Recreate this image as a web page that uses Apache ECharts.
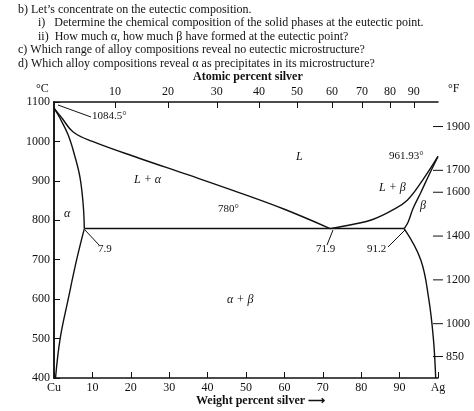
<!DOCTYPE html>
<html><head><meta charset="utf-8">
<script src="https://cdn.jsdelivr.net/npm/echarts@6.0.0/dist/echarts.min.js"></script>
<style>html,body{margin:0;background:#fff}#echarts{width:474px;height:411px}</style>
</head><body><div id="echarts"></div>
<script>
// Cu-Ag phase diagram, wt% Ag vs temperature (C)
const liquidusCu = [[0,1084.5],[2,1060],[5,1024],[10,1000],[22,958],[35,915],[48,871],[60,828],[71.9,779]]
const liquidusAg = [[71.9,779],[78,790],[83,802],[88,825],[92,851],[96,902],[100,961.93]]
const solidusAlpha = [[0,1084.5],[1.5,1060],[3.7,1016],[5.5,960],[6.8,907],[7.6,840],[7.9,779]]
const solvusAlpha = [[7.9,779],[5.9,700],[3.7,600],[1.6,500],[0.4,400]]
const solidusBeta = [[100,961.93],[97.9,920],[95.5,870],[93.5,830],[92.2,795],[91.2,779]]
const solvusBeta = [[91.2,779],[95.5,700],[97.6,600],[98.8,500],[99.4,400]]
const eutectic = [[7.9,779],[91.2,779]]
// top axis: atomic % labels and where they sit in wt%
const atomicLabels = [10,20,30,40,50,60,70,80,90]
const atomicAtWt = [15.9,29.7,42.4,53.4,63.3,72.4,80.2,87.5,93.7]
const fahrenheitTicks = [850,1000,1200,1400,1600,1700,1900]

const F = 'Liberation Serif'
const myChart = echarts.init(document.getElementById('echarts'))
const curve = (d, smooth) => ({type:'line', data:d, smooth:smooth, symbol:'none', silent:true,
  lineStyle:{color:'#111', width:1.4}, xAxisIndex:0, yAxisIndex:0})
const txt = (x, y, t, o) => Object.assign({type:'text', left:x, top:y,
  style:{text:t, font:'12px ' + F, fill:'#111'}}, o || {})
const ital = (x, y, t) => txt(x, y, t, {style:{text:t, font:'italic 12px ' + F, fill:'#111'}})
const seg = (x1, y1, x2, y2) => ({type:'line', shape:{x1, y1, x2, y2}, style:{stroke:'#111', lineWidth:1}})
const axisCommon = {axisLine:{lineStyle:{color:'#111', width:1.5}}, splitLine:{show:false},
  axisTick:{inside:true, length:6, lineStyle:{color:'#111'}},
  axisLabel:{color:'#111', fontFamily:F, fontSize:12, formatter:v => String(v)}}

const option = {
  animation:false,
  grid:{left:54, right:36, top:102, bottom:33},
  xAxis:[
    Object.assign({}, axisCommon, {type:'value', min:0, max:100, interval:10, position:'bottom',
      axisLabel:Object.assign({}, axisCommon.axisLabel, {margin:4,
        formatter:v => v === 0 ? 'Cu' : v === 100 ? 'Ag' : String(v)})}),
    Object.assign({}, axisCommon, {type:'value', min:0, max:100, position:'top',
      axisTick:Object.assign({}, axisCommon.axisTick, {customValues:atomicAtWt}),
      axisLabel:Object.assign({}, axisCommon.axisLabel, {margin:4, customValues:atomicAtWt,
        formatter:v => String(atomicLabels[atomicAtWt.indexOf(v)])})})
  ],
  yAxis:[
    Object.assign({}, axisCommon, {type:'value', min:400, max:1100, interval:100, position:'left',
      axisTick:Object.assign({}, axisCommon.axisTick, {customValues:[400,500,600,700,800,900,1000,1100]}),
      axisLabel:Object.assign({}, axisCommon.axisLabel, {margin:4})}),
    Object.assign({}, axisCommon, {type:'value', min:752, max:2012, position:'right', alignTicks:false,
      axisTick:{show:false},
      axisLabel:Object.assign({}, axisCommon.axisLabel, {margin:8, customValues:fahrenheitTicks})})
  ],
  series:[curve(liquidusCu, 0.4), curve(liquidusAg, 0.4), curve(solidusAlpha, 0.4),
    curve(solvusAlpha, 0.4), curve(solidusBeta, 0.4), curve(solvusBeta, 0.4), curve(eutectic, false)],
  graphic:[
    txt(18, 4, "b) Let’s concentrate on the eutectic composition."),
    txt(38, 17, 'i)   Determine the chemical composition of the solid phases at the eutectic point.'),
    txt(38, 31, 'ii)  How much α, how much β have formed at the eutectic point?'),
    txt(18, 44, 'c) Which range of alloy compositions reveal no eutectic microstructure?'),
    txt(18, 58, 'd) Which alloy compositions reveal α as precipitates in its microstructure?'),
    txt(193, 71, 'Atomic percent silver', {style:{text:'Atomic percent silver', font:'bold 12px ' + F, fill:'#111'}}),
    txt(36, 83, '°C'), txt(448, 83, '°F'),
    txt(196, 395, 'Weight percent silver ⟶', {style:{text:'Weight percent silver ⟶', font:'bold 12px ' + F, fill:'#111'}}),
    txt(92, 111, '1084.5°', {style:{text:'1084.5°', font:'11px ' + F, fill:'#111'}}), seg(58, 105, 91, 117),
    txt(389, 151, '961.93°', {style:{text:'961.93°', font:'11px ' + F, fill:'#111'}}),
    txt(218, 204, '780°', {style:{text:'780°', font:'11px ' + F, fill:'#111'}}),
    txt(98, 244, '7.9', {style:{text:'7.9', font:'11px ' + F, fill:'#111'}}), seg(85, 230, 99, 245),
    txt(316, 244, '71.9', {style:{text:'71.9', font:'11px ' + F, fill:'#111'}}), seg(333, 230, 327, 245),
    txt(367, 244, '91.2', {style:{text:'91.2', font:'11px ' + F, fill:'#111'}}), seg(405, 230, 388, 247),
    ital(296, 151, 'L'), ital(134, 174, 'L + α'), ital(64, 208, 'α'), ital(379, 182, 'L + β'),
    ital(420, 200, 'β'), ital(227, 294, 'α + β')
  ]
}
myChart.setOption(option)
// right-hand °F ticks crossing the frame
const xr = myChart.convertToPixel({xAxisIndex:0}, 100)
option.graphic = option.graphic.concat(fahrenheitTicks.map(f => {
  const y = myChart.convertToPixel({yAxisIndex:1}, f)
  return seg(xr - 5, y, xr + 5, y)
}))
myChart.setOption({graphic:option.graphic})
</script></body></html>
